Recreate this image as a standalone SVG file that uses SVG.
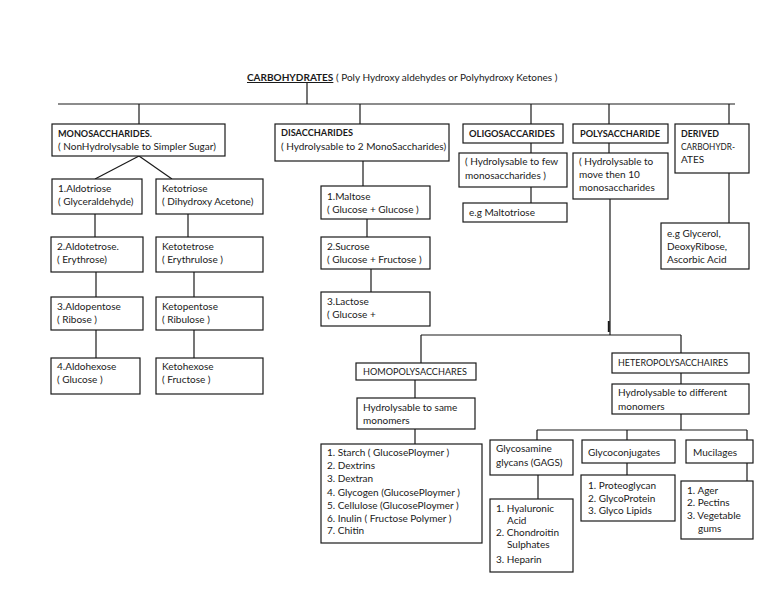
<svg xmlns="http://www.w3.org/2000/svg" width="768" height="594" viewBox="0 0 768 594">
<style>
text{font-family:Lato,"Liberation Sans",sans-serif;font-size:10px;fill:#1a1a1a}
.b{font-weight:bold}
rect{fill:#fff;stroke:#1a1a1a;stroke-width:1.2}
#connectors line{stroke:#1a1a1a;stroke-width:1.2}
</style>
<rect x="0" y="0" width="768" height="594" style="fill:#fff;stroke:none"/>
<g id="connectors">
<line x1="307" y1="83" x2="307" y2="104"/>
<line x1="58" y1="104" x2="735" y2="104"/>
<line x1="139" y1="104" x2="139" y2="124"/>
<line x1="360" y1="104" x2="360" y2="124"/>
<line x1="531" y1="104" x2="531" y2="124"/>
<line x1="609" y1="104" x2="609" y2="124"/>
<line x1="729" y1="104" x2="729" y2="124"/>
<line x1="139" y1="156" x2="95" y2="179"/>
<line x1="139" y1="156" x2="172" y2="179"/>
<line x1="95" y1="214" x2="95" y2="237"/>
<line x1="188" y1="214" x2="188" y2="237"/>
<line x1="96" y1="272" x2="96" y2="297"/>
<line x1="194" y1="272" x2="194" y2="297"/>
<line x1="96" y1="330" x2="96" y2="358"/>
<line x1="194" y1="330" x2="194" y2="358"/>
<line x1="363" y1="161" x2="363" y2="186"/>
<line x1="367" y1="219" x2="367" y2="237"/>
<line x1="371" y1="269" x2="371" y2="292"/>
<line x1="531" y1="143" x2="531" y2="153"/>
<line x1="531" y1="187" x2="531" y2="203"/>
<line x1="609" y1="143" x2="609" y2="153"/>
<line x1="610" y1="199" x2="610" y2="335"/>
<line x1="608.8" y1="321" x2="608.8" y2="332" style="stroke-width:2"/>
<line x1="729" y1="173" x2="729" y2="223"/>
<line x1="421" y1="335" x2="681" y2="335"/>
<line x1="421" y1="335" x2="421" y2="363"/>
<line x1="681" y1="335" x2="681" y2="353"/>
<line x1="415" y1="380" x2="415" y2="398"/>
<line x1="415" y1="429" x2="415" y2="444"/>
<line x1="681" y1="373" x2="681" y2="384"/>
<line x1="681" y1="414" x2="681" y2="430"/>
<line x1="537" y1="430" x2="747" y2="430"/>
<line x1="537" y1="430" x2="537" y2="440"/>
<line x1="627" y1="430" x2="627" y2="440"/>
<line x1="747" y1="430" x2="747" y2="440"/>
<line x1="538" y1="475" x2="538" y2="499"/>
<line x1="627" y1="463" x2="627" y2="475"/>
<line x1="747" y1="463" x2="747" y2="481"/>
</g>
<g id="title">
<text x="247" y="81"><tspan class="b" text-decoration="underline">CARBOHYDRATES</tspan> ( Poly Hydroxy aldehydes or Polyhydroxy Ketones )</text>
</g>
<g id="mono">
<rect x="52" y="124" width="173" height="32"/>
<text x="58" y="137" class="b" textLength="94" lengthAdjust="spacingAndGlyphs">MONOSACCHARIDES.</text>
<text x="58" y="150">( NonHydrolysable to Simpler Sugar)</text>
</g>
<g id="disacch">
<rect x="275" y="124" width="174" height="37"/>
<text x="281" y="136" class="b" textLength="72" lengthAdjust="spacingAndGlyphs">DISACCHARIDES</text>
<text x="281" y="150">( Hydrolysable to 2 MonoSaccharides)</text>
</g>
<g id="oligo">
<rect x="463" y="124" width="100" height="19"/>
<text x="469" y="137" class="b" textLength="86" lengthAdjust="spacingAndGlyphs">OLIGOSACCARIDES</text>
</g>
<g id="poly">
<rect x="573" y="124" width="95" height="19"/>
<text x="580" y="137" class="b" textLength="80" lengthAdjust="spacingAndGlyphs">POLYSACCHARIDE</text>
</g>
<g id="derived">
<rect x="675" y="124" width="74" height="49"/>
<text x="681" y="137" class="b" textLength="38" lengthAdjust="spacingAndGlyphs">DERIVED</text>
<text x="681" y="150" textLength="54" lengthAdjust="spacingAndGlyphs">CARBOHYDR-</text>
<text x="681" y="163">ATES</text>
</g>
<g id="oligo-desc">
<rect x="459" y="153" width="108" height="34"/>
<text x="465" y="165">( Hydrolysable to few</text>
<text x="465" y="179">monosaccharides )</text>
</g>
<g id="maltotriose">
<rect x="463" y="203" width="104" height="19"/>
<text x="469" y="216">e.g  Maltotriose</text>
</g>
<g id="poly-desc">
<rect x="573" y="153" width="95" height="46"/>
<text x="579" y="165">( Hydrolysable to</text>
<text x="579" y="178">move then 10</text>
<text x="579" y="191">monosaccharides</text>
</g>
<g id="derived-ex">
<rect x="661" y="223" width="88" height="46"/>
<text x="667" y="237">e.g Glycerol,</text>
<text x="667" y="250">DeoxyRibose,</text>
<text x="667" y="263">Ascorbic Acid</text>
</g>
<g id="aldotriose">
<rect x="52" y="179" width="90" height="35"/>
<text x="58" y="192">1.Aldotriose</text>
<text x="58" y="205">( Glyceraldehyde)</text>
</g>
<g id="ketotriose">
<rect x="156" y="179" width="107" height="35"/>
<text x="162" y="192">Ketotriose</text>
<text x="162" y="205">( Dihydroxy Acetone)</text>
</g>
<g id="aldotetrose">
<rect x="51" y="237" width="92" height="35"/>
<text x="57" y="250">2.Aldotetrose.</text>
<text x="57" y="263">( Erythrose)</text>
</g>
<g id="ketotetrose">
<rect x="156" y="237" width="107" height="35"/>
<text x="162" y="250">Ketotetrose</text>
<text x="162" y="263">( Erythrulose )</text>
</g>
<g id="aldopentose">
<rect x="51" y="297" width="92" height="33"/>
<text x="57" y="310">3.Aldopentose</text>
<text x="57" y="323">( Ribose )</text>
</g>
<g id="ketopentose">
<rect x="156" y="297" width="107" height="33"/>
<text x="162" y="310">Ketopentose</text>
<text x="162" y="323">( Ribulose )</text>
</g>
<g id="aldohexose">
<rect x="51" y="358" width="89" height="36"/>
<text x="57" y="370">4.Aldohexose</text>
<text x="57" y="383">( Glucose )</text>
</g>
<g id="ketohexose">
<rect x="156" y="358" width="107" height="36"/>
<text x="162" y="370">Ketohexose</text>
<text x="162" y="383">( Fructose )</text>
</g>
<g id="maltose">
<rect x="321" y="186" width="109" height="33"/>
<text x="327" y="200">1.Maltose</text>
<text x="327" y="213">( Glucose + Glucose )</text>
</g>
<g id="sucrose">
<rect x="321" y="237" width="109" height="32"/>
<text x="327" y="250">2.Sucrose</text>
<text x="327" y="263">( Glucose + Fructose )</text>
</g>
<g id="lactose">
<rect x="321" y="292" width="109" height="34"/>
<text x="327" y="305">3.Lactose</text>
<text x="327" y="318">( Glucose +</text>
</g>
<g id="homo">
<rect x="356" y="363" width="120" height="17"/>
<text x="363" y="375" textLength="104" lengthAdjust="spacingAndGlyphs">HOMOPOLYSACCHARES</text>
</g>
<g id="homo-desc">
<rect x="357" y="398" width="118" height="31"/>
<text x="363" y="411">Hydrolysable to same</text>
<text x="363" y="424">monomers</text>
</g>
<g id="homo-list">
<rect x="321" y="444" width="161" height="99"/>
<text x="327" y="456">1. Starch ( GlucosePloymer )</text>
<text x="327" y="469">2. Dextrins</text>
<text x="327" y="482">3. Dextran</text>
<text x="327" y="496">4. Glycogen (GlucosePloymer )</text>
<text x="327" y="509">5. Cellulose (GlucosePloymer )</text>
<text x="327" y="522">6. Inulin ( Fructose Polymer )</text>
<text x="327" y="534">7. Chitin</text>
</g>
<g id="hetero">
<rect x="612" y="353" width="137" height="20"/>
<text x="618" y="366" textLength="110" lengthAdjust="spacingAndGlyphs">HETEROPOLYSACCHAIRES</text>
</g>
<g id="hetero-desc">
<rect x="612" y="384" width="137" height="30"/>
<text x="618" y="396">Hydrolysable to different</text>
<text x="618" y="410">monomers</text>
</g>
<g id="gags">
<rect x="490" y="440" width="83" height="35"/>
<text x="496" y="452">Glycosamine</text>
<text x="496" y="466">glycans (GAGS)</text>
</g>
<g id="glycoconj">
<rect x="582" y="440" width="93" height="23"/>
<text x="588" y="456">Glycoconjugates</text>
</g>
<g id="mucilages">
<rect x="686" y="440" width="67" height="23"/>
<text x="693" y="456">Mucilages</text>
</g>
<g id="gags-list">
<rect x="490" y="499" width="83" height="73"/>
<text x="496" y="512">1. Hyaluronic</text>
<text x="507" y="524">Acid</text>
<text x="496" y="536">2. Chondroitin</text>
<text x="507" y="548">Sulphates</text>
<text x="496" y="563">3. Heparin</text>
</g>
<g id="glycoconj-list">
<rect x="581" y="475" width="94" height="46"/>
<text x="588" y="489">1. Proteoglycan</text>
<text x="588" y="502">2. GlycoProtein</text>
<text x="588" y="514">3. Glyco Lipids</text>
</g>
<g id="mucilages-list">
<rect x="681" y="481" width="72" height="58"/>
<text x="687" y="494">1. Ager</text>
<text x="687" y="506">2. Pectins</text>
<text x="687" y="519">3. Vegetable</text>
<text x="698" y="532">gums</text>
</g>
</svg>
